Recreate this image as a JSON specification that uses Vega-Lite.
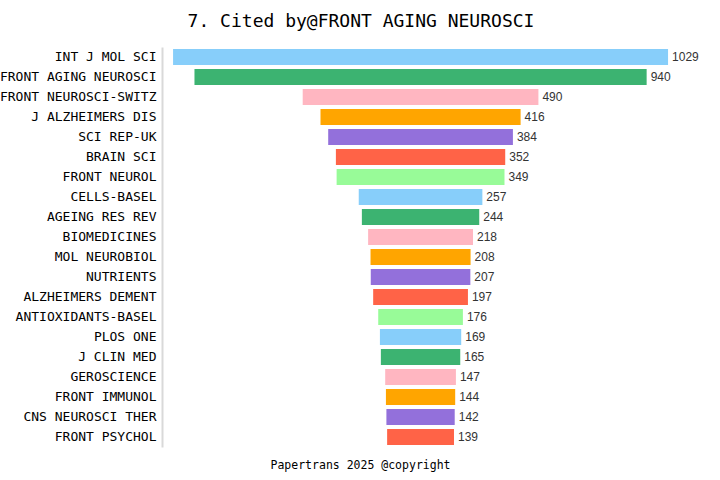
{
  "$schema": "https://vega.github.io/schema/vega-lite/v6.json",
  "width": 520,
  "height": 400,
  "autosize": {"type": "none"},
  "padding": {"left": 162, "top": 47, "right": 38, "bottom": 33},
  "background": "white",
  "title": {
    "text": "7. Cited by@FRONT AGING NEUROSCI",
    "font": "DejaVu Sans Mono",
    "fontSize": 18,
    "fontWeight": "normal",
    "color": "#000000",
    "anchor": "middle",
    "dx": -61,
    "offset": 16
  },
  "config": {"view": {"stroke": null}},
  "data": {
    "values": [
      {"journal": "INT J MOL SCI", "count": 1029},
      {"journal": "FRONT AGING NEUROSCI", "count": 940},
      {"journal": "FRONT NEUROSCI-SWITZ", "count": 490},
      {"journal": "J ALZHEIMERS DIS", "count": 416},
      {"journal": "SCI REP-UK", "count": 384},
      {"journal": "BRAIN SCI", "count": 352},
      {"journal": "FRONT NEUROL", "count": 349},
      {"journal": "CELLS-BASEL", "count": 257},
      {"journal": "AGEING RES REV", "count": 244},
      {"journal": "BIOMEDICINES", "count": 218},
      {"journal": "MOL NEUROBIOL", "count": 208},
      {"journal": "NUTRIENTS", "count": 207},
      {"journal": "ALZHEIMERS DEMENT", "count": 197},
      {"journal": "ANTIOXIDANTS-BASEL", "count": 176},
      {"journal": "PLOS ONE", "count": 169},
      {"journal": "J CLIN MED", "count": 165},
      {"journal": "GEROSCIENCE", "count": 147},
      {"journal": "FRONT IMMUNOL", "count": 144},
      {"journal": "CNS NEUROSCI THER", "count": 142},
      {"journal": "FRONT PSYCHOL", "count": 139}
    ]
  },
  "encoding": {
    "y": {
      "field": "journal",
      "type": "nominal",
      "sort": null,
      "scale": {"paddingInner": 0.2, "paddingOuter": 0.1},
      "axis": {
        "title": null,
        "ticks": false,
        "domainColor": "#d9d9d9",
        "domainWidth": 2,
        "labelFont": "DejaVu Sans Mono",
        "labelFontSize": 13,
        "labelColor": "#000000",
        "labelPadding": 6,
        "labelLimit": 0
      }
    },
    "x": {
      "field": "count",
      "type": "quantitative",
      "stack": "center",
      "scale": {"domain": [-23, 1058], "nice": false, "zero": false},
      "axis": {
        "labels": false,
        "ticks": false,
        "domain": false,
        "grid": false,
        "title": "Papertrans 2025 @copyright",
        "titleFont": "DejaVu Sans Mono",
        "titleFontSize": 11.5,
        "titleFontWeight": "normal",
        "titleColor": "#000000",
        "titleX": 198,
        "titleY": 18,
        "titleAlign": "center",
        "titleBaseline": "middle"
      }
    }
  },
  "layer": [
    {
      "mark": {"type": "bar"},
      "encoding": {
        "color": {
          "field": "journal",
          "type": "nominal",
          "legend": null,
          "scale": {
            "domain": ["INT J MOL SCI", "FRONT AGING NEUROSCI", "FRONT NEUROSCI-SWITZ", "J ALZHEIMERS DIS", "SCI REP-UK", "BRAIN SCI", "FRONT NEUROL", "CELLS-BASEL", "AGEING RES REV", "BIOMEDICINES", "MOL NEUROBIOL", "NUTRIENTS", "ALZHEIMERS DEMENT", "ANTIOXIDANTS-BASEL", "PLOS ONE", "J CLIN MED", "GEROSCIENCE", "FRONT IMMUNOL", "CNS NEUROSCI THER", "FRONT PSYCHOL"],
            "range": ["#87CEFA", "#3CB371", "#FFB6C1", "#FFA500", "#9370DB", "#FF6347", "#98FB98", "#87CEFA", "#3CB371", "#FFB6C1", "#FFA500", "#9370DB", "#FF6347", "#98FB98", "#87CEFA", "#3CB371", "#FFB6C1", "#FFA500", "#9370DB", "#FF6347"]
          }
        }
      }
    },
    {
      "mark": {"type": "text", "align": "left", "baseline": "middle", "dx": 4, "font": "Liberation Sans", "fontSize": 12, "color": "#333333"},
      "encoding": {
        "text": {"field": "count", "type": "quantitative"}
      }
    }
  ]
}
